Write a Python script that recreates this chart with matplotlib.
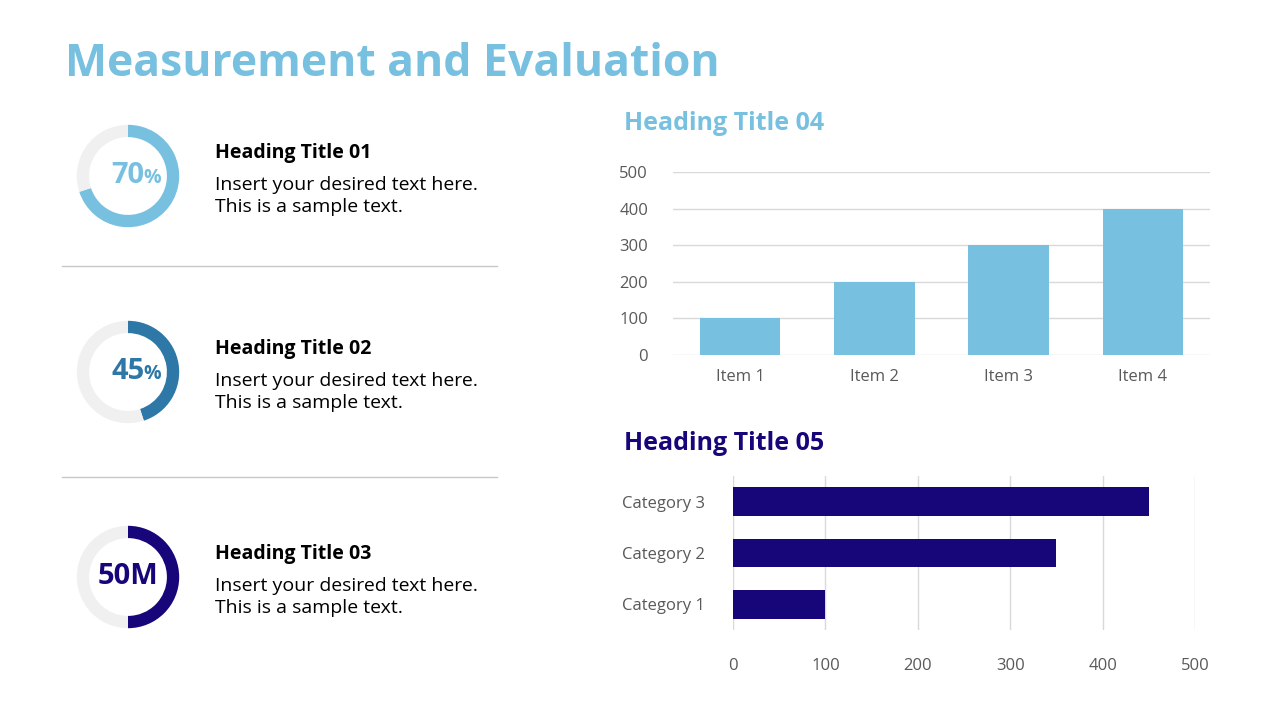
import matplotlib as mpl
mpl.use('Agg')
import matplotlib.pyplot as plt

FONT = 'Open Sans'
LIGHT = '#77C0E0'
MID = '#2E78A8'
NAVY = '#16067A'
GREY = '#F0F0F0'

donut_values = [70, 45, 50]
donut_labels = ['70', '45', '50M']
donut_suffix = ['%', '%', '']
donut_colors = [LIGHT, MID, NAVY]
headings = ['Heading Title 01', 'Heading Title 02', 'Heading Title 03']
body = 'Insert your desired text here.\nThis is a sample text.'

items = ['Item 1', 'Item 2', 'Item 3', 'Item 4']
item_values = [100, 200, 300, 400]
categories = ['Category 1', 'Category 2', 'Category 3']
category_values = [100, 350, 450]

W, H = 1280, 720
fig = plt.figure(figsize=(12.8, 7.2), dpi=100)
fig.patch.set_facecolor('white')

def fx(px): return px / W
def fy(py): return 1 - py / H

fig.text(fx(65), fy(65), 'Measurement and Evaluation', fontsize=32, fontweight='bold',
         color=LIGHT, family=FONT, va='center')

centers = [176, 372, 577]
for i, cy in enumerate(centers):
    r = 64
    ax = fig.add_axes([fx(128 - r), fy(cy + r), 2 * r / W, 2 * r / H])
    v = donut_values[i]
    ax.pie([v, 100 - v], colors=[donut_colors[i], GREY], startangle=90, counterclock=False,
           wedgeprops=dict(width=0.24))
    ax.set_aspect('equal')
    ax.text(0, 0, donut_labels[i], ha='center', va='center', fontsize=21, fontweight='bold',
            color=donut_colors[i], family=FONT)
    if donut_suffix[i]:
        ax.text(0.3, -0.03, donut_suffix[i], ha='left', va='center', fontsize=14, fontweight='bold',
                color=donut_colors[i], family=FONT)
    ax.texts[0].set_position((-0.08, 0)) if donut_suffix[i] else None
    fig.text(fx(215), fy(cy - 23), headings[i], fontsize=14, fontweight='bold', color='black',
             family=FONT, va='center')
    fig.text(fx(215), fy(cy + 20), body, fontsize=14, color='black', family=FONT, va='center',
             linespacing=1.25)

for y in (266, 477):
    fig.add_artist(plt.Line2D([fx(62), fx(497)], [fy(y), fy(y)], color='#C8C8C8', lw=1))

fig.text(fx(624), fy(123), 'Heading Title 04', fontsize=18, fontweight='bold', color=LIGHT,
         family=FONT, va='center')
fig.text(fx(624), fy(444), 'Heading Title 05', fontsize=18, fontweight='bold', color=NAVY,
         family=FONT, va='center')

# column chart
ax1 = fig.add_axes([fx(673), fy(355), fx(1210) - fx(673), 183 / H])
ax1.bar(range(len(items)), item_values, width=0.6, color=LIGHT, zorder=2)
ax1.set_ylim(0, 500)
ax1.set_xlim(-0.5, len(items) - 0.5)
ax1.set_yticks(range(0, 501, 100))
ax1.set_xticks(range(len(items)))
ax1.set_xticklabels(items)
ax1.grid(axis='y', color='#D9D9D9', lw=1, zorder=0)
for s in ax1.spines.values():
    s.set_visible(False)
ax1.tick_params(length=0, labelsize=12, labelcolor='#595959', pad=10)
for t in ax1.get_xticklabels() + ax1.get_yticklabels():
    t.set_family(FONT)
ax1.tick_params(axis='y', pad=18)

# bar chart
ax2 = fig.add_axes([fx(733), fy(630), fx(1195) - fx(733), 154 / H])
ax2.barh(range(len(categories)), category_values, height=0.56, color=NAVY, zorder=2)
ax2.set_xlim(0, 500)
ax2.set_ylim(-0.5, len(categories) - 0.5)
ax2.set_yticks(range(len(categories)))
ax2.set_yticklabels(categories)
ax2.set_xticks(range(0, 501, 100))
ax2.grid(axis='x', color='#D9D9D9', lw=1, zorder=0)
for s in ax2.spines.values():
    s.set_visible(False)
ax2.tick_params(length=0, labelsize=12, labelcolor='#595959', pad=20)
ax2.tick_params(axis='y', pad=20)
for t in ax2.get_xticklabels() + ax2.get_yticklabels():
    t.set_family(FONT)

fig.savefig('out.png', dpi=100)
